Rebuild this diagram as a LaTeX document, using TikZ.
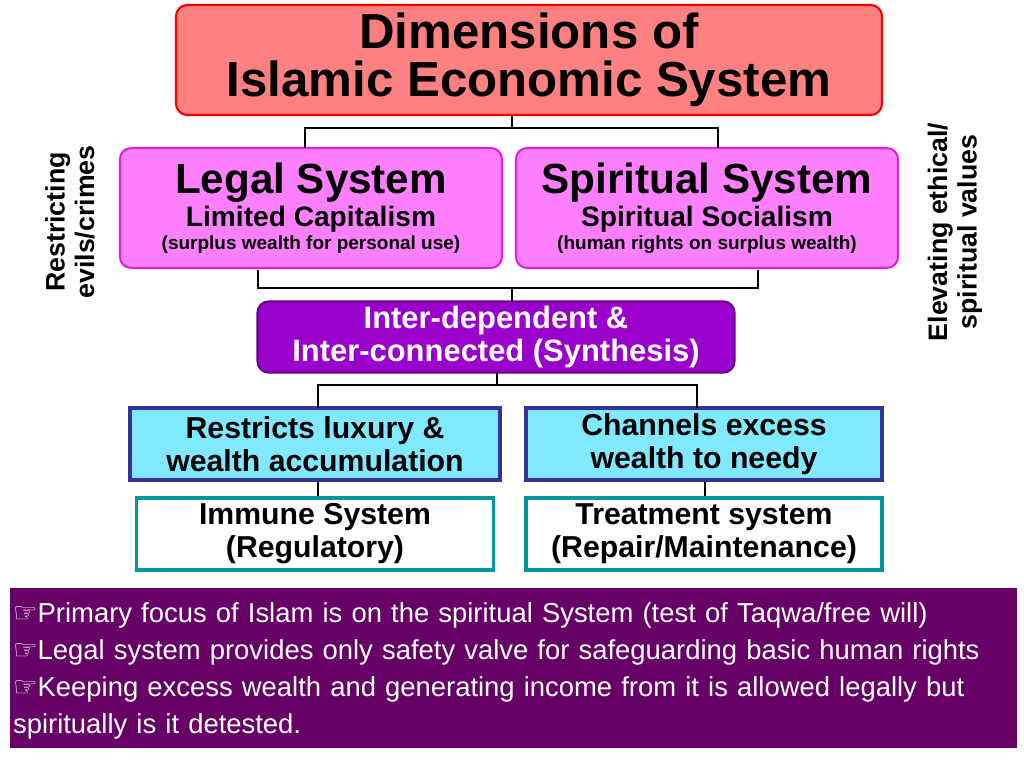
\documentclass[tikz,border=0pt]{standalone}
\usepackage{fontspec}
\setmainfont{Liberation Sans}
\newfontfamily\symfont{DejaVu Sans}
\definecolor{titlefill}{HTML}{FF8080}
\definecolor{sysfill}{HTML}{FF80FF}
\definecolor{sysdraw}{HTML}{E020E0}
\definecolor{synfill}{HTML}{9900CC}
\definecolor{actfill}{HTML}{80E8FF}
\definecolor{actdraw}{HTML}{333399}
\definecolor{orgdraw}{HTML}{009999}
\definecolor{notefill}{HTML}{660066}
\tikzset{
  box/.style={draw, rounded corners=8, line width=1.5pt, align=center, font=\bfseries},
  actbox/.style={draw=actdraw, fill=actfill, line width=3pt, align=center, font=\bfseries\fontsize{21.5}{23.5}\selectfont},
  orgbox/.style={draw=orgdraw, fill=white, line width=2.5pt, align=center, font=\bfseries\fontsize{21.5}{23.5}\selectfont},
  link/.style={line width=2pt}
}
\newcommand{\pt}{{\symfont ☞}}
\begin{document}
\begin{tikzpicture}[x=0.025cm,y=-0.025cm]
\useasboundingbox (0,0) rectangle (1024,768);
% title
\node[box, draw=red, fill=titlefill, minimum width=706*0.025cm, minimum height=110*0.025cm,
  font=\bfseries\fontsize{35}{34}\selectfont] (title) at (529,60) {Dimensions of\\Islamic Economic System};
% two systems
\node[box, draw=sysdraw, fill=sysfill, minimum width=382*0.025cm, minimum height=120*0.025cm] (legal) at (311,208)
  {{\fontsize{30}{30}\selectfont Legal System}\\[2pt]{\fontsize{20}{20}\selectfont Limited Capitalism}\\[1pt]{\fontsize{13.5}{14}\selectfont (surplus wealth for personal use)}};
\node[box, draw=sysdraw, fill=sysfill, minimum width=382*0.025cm, minimum height=120*0.025cm] (spirit) at (707,208)
  {{\fontsize{30}{30}\selectfont Spiritual System}\\[2pt]{\fontsize{20}{20}\selectfont Spiritual Socialism}\\[1pt]{\fontsize{13.5}{14}\selectfont (human rights on surplus wealth)}};
\coordinate (t1) at (512,128);
\draw[link] (title.south -| t1) -- (t1);
\draw[link] (305,148) |- (718,128) -- (718,148);
% synthesis
\node[box, draw=synfill!70!black, fill=synfill, text=white, minimum width=477*0.025cm, minimum height=70*0.025cm,
  font=\bfseries\fontsize{22}{23.5}\selectfont] (syn) at (496,337) {Inter-dependent \&\\Inter-connected (Synthesis)};
\draw[link] (258,270) |- (758,288) -- (758,270);
\draw[link] (512,288) -- (512,302);
% actions
\node[actbox, minimum width=370*0.025cm, minimum height=72*0.025cm] (restr) at (315,444) {Restricts luxury \&\\wealth accumulation};
\node[actbox, minimum width=356*0.025cm, minimum height=72*0.025cm] (chan) at (704,444) {Channels excess\\ wealth to needy};
\draw[link] (497,372) -- (497,385);
\draw[link] (318,408) |- (697,385) -- (697,408);
% organs
\node[orgbox, minimum width=357*0.025cm, minimum height=72*0.025cm] (immune) at (315,534) {Immune System\\ (Regulatory)};
\node[orgbox, minimum width=356*0.025cm, minimum height=72*0.025cm] (treat) at (704,534) {Treatment system\\ (Repair/Maintenance)};
\draw[line width=1pt] (restr.south -| 318,0) -- (immune.north -| 318,0);
\draw[line width=1pt] (chan.south -| 705,0) -- (treat.north -| 705,0);
% side labels
\node[rotate=90, align=center, font=\bfseries\fontsize{19}{21}\selectfont] (left) at (70,222) {Restricting\\evils/crimes};
\node[rotate=90, align=center, font=\bfseries\fontsize{19}{21}\selectfont] (right) at (955,232) {Elevating ethical/\\spiritual values};
% notes
\fill[notefill] (10,588) rectangle (1017,748);
\node[anchor=north west, text=white, align=left, text width=1005*0.025cm, inner sep=2pt,
  font=\fontsize{19.5}{26.2}\selectfont] (notes) at (10,600)
  {\pt Primary focus of Islam is on the spiritual System (test of Taqwa/free will)\\
   \pt Legal system provides only safety valve for safeguarding basic human rights\\
   \pt Keeping excess wealth and generating income from it is allowed legally but\\
   spiritually is it detested.};
\end{tikzpicture}
\end{document}
